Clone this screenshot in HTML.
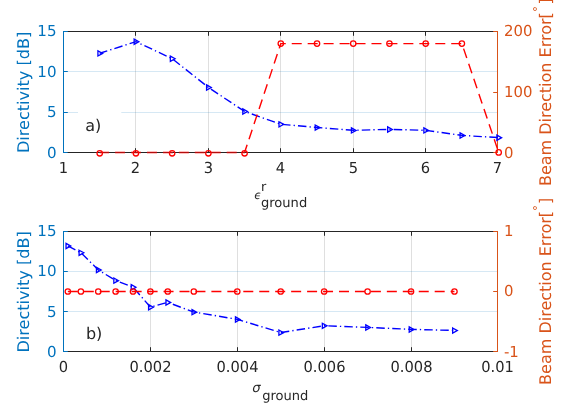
<!DOCTYPE html>
<html lang="en"><head><meta charset="utf-8"><title>Directivity and beam direction error</title>
<style>html,body{margin:0;padding:0;background:#fff;}body{width:561px;height:420px;overflow:hidden;}svg{display:block;}</style>
</head><body>
<svg width="561" height="420" viewBox="0 0 561 420" text-rendering="geometricPrecision" font-family='"DejaVu Sans", "Liberation Sans", sans-serif'>
<rect width="561" height="420" fill="#fff"/>
<line x1="135.50" y1="31.5" x2="135.50" y2="152.5" stroke="#262626" stroke-opacity="0.15" stroke-width="1"/>
<line x1="208.50" y1="31.5" x2="208.50" y2="152.5" stroke="#262626" stroke-opacity="0.15" stroke-width="1"/>
<line x1="280.50" y1="31.5" x2="280.50" y2="152.5" stroke="#262626" stroke-opacity="0.15" stroke-width="1"/>
<line x1="353.50" y1="31.5" x2="353.50" y2="152.5" stroke="#262626" stroke-opacity="0.15" stroke-width="1"/>
<line x1="425.50" y1="31.5" x2="425.50" y2="152.5" stroke="#262626" stroke-opacity="0.15" stroke-width="1"/>
<line x1="63.5" y1="112.50" x2="497.5" y2="112.50" stroke="#0072BD" stroke-opacity="0.16" stroke-width="1"/>
<line x1="63.5" y1="71.50" x2="497.5" y2="71.50" stroke="#0072BD" stroke-opacity="0.16" stroke-width="1"/>
<rect x="78" y="108" width="43.3" height="30" fill="#fff"/>
<path d="M63.5 31.5 H497.5 M63.5 152.5 H497.5" stroke="#262626" stroke-width="1" fill="none"/>
<path d="M63.50 152.5 v-4.3 M63.50 31.5 v4.3" stroke="#262626" stroke-width="1" fill="none"/>
<path d="M135.50 152.5 v-4.3 M135.50 31.5 v4.3" stroke="#262626" stroke-width="1" fill="none"/>
<path d="M208.50 152.5 v-4.3 M208.50 31.5 v4.3" stroke="#262626" stroke-width="1" fill="none"/>
<path d="M280.50 152.5 v-4.3 M280.50 31.5 v4.3" stroke="#262626" stroke-width="1" fill="none"/>
<path d="M353.50 152.5 v-4.3 M353.50 31.5 v4.3" stroke="#262626" stroke-width="1" fill="none"/>
<path d="M425.50 152.5 v-4.3 M425.50 31.5 v4.3" stroke="#262626" stroke-width="1" fill="none"/>
<path d="M497.50 152.5 v-4.3 M497.50 31.5 v4.3" stroke="#262626" stroke-width="1" fill="none"/>
<path d="M63.5 31.0 V153.0 M63.5 152.50 h4.3 M63.5 112.50 h4.3 M63.5 71.50 h4.3 M63.5 31.50 h4.3" stroke="#0072BD" stroke-width="1" fill="none"/>
<path d="M497.5 31.0 V153.0 M497.5 152.50 h-4.3 M497.5 92.50 h-4.3 M497.5 31.50 h-4.3" stroke="#D95319" stroke-width="1" fill="none"/>
<text transform="translate(63.50,173.00) scale(1,1.04)" text-anchor="middle" font-size="14.67" fill="#262626">1</text>
<text transform="translate(135.50,173.00) scale(1,1.04)" text-anchor="middle" font-size="14.67" fill="#262626">2</text>
<text transform="translate(208.50,173.00) scale(1,1.04)" text-anchor="middle" font-size="14.67" fill="#262626">3</text>
<text transform="translate(280.50,173.00) scale(1,1.04)" text-anchor="middle" font-size="14.67" fill="#262626">4</text>
<text transform="translate(353.50,173.00) scale(1,1.04)" text-anchor="middle" font-size="14.67" fill="#262626">5</text>
<text transform="translate(425.50,173.00) scale(1,1.04)" text-anchor="middle" font-size="14.67" fill="#262626">6</text>
<text transform="translate(497.50,173.00) scale(1,1.04)" text-anchor="middle" font-size="14.67" fill="#262626">7</text>
<text transform="translate(56.50,158.00) scale(1.03,1.04)" text-anchor="end" font-size="14.67" fill="#0072BD">0</text>
<text transform="translate(56.50,117.00) scale(1.03,1.04)" text-anchor="end" font-size="14.67" fill="#0072BD">5</text>
<text transform="translate(56.50,77.00) scale(1.03,1.04)" text-anchor="end" font-size="14.67" fill="#0072BD">10</text>
<text transform="translate(56.50,36.00) scale(1.03,1.04)" text-anchor="end" font-size="14.67" fill="#0072BD">15</text>
<text transform="translate(504.00,158.00) scale(1.015,1.04)" text-anchor="start" font-size="14.67" fill="#D95319">0</text>
<text transform="translate(504.00,97.00) scale(1.015,1.04)" text-anchor="start" font-size="14.67" fill="#D95319">100</text>
<text transform="translate(504.00,36.00) scale(1.015,1.04)" text-anchor="start" font-size="14.67" fill="#D95319">200</text>
<polyline points="99.72,53.28 135.93,41.66 172.15,58.60 208.37,87.40 244.58,111.44 280.80,124.27 317.02,127.49 353.23,130.32 389.45,129.35 425.67,130.32 461.88,135.40 498.68,137.58" fill="none" stroke="#0000FF" stroke-width="1.4" stroke-dasharray="8.5 3.1 1.3 3.1" stroke-dashoffset="0.6"/>
<path d="M97.92 50.78 L102.62 53.38 L97.92 55.98 Z" fill="none" stroke="#0000FF" stroke-width="1.3" stroke-linejoin="miter"/>
<path d="M134.13 39.16 L138.83 41.76 L134.13 44.36 Z" fill="none" stroke="#0000FF" stroke-width="1.3" stroke-linejoin="miter"/>
<path d="M170.35 56.10 L175.05 58.70 L170.35 61.30 Z" fill="none" stroke="#0000FF" stroke-width="1.3" stroke-linejoin="miter"/>
<path d="M206.57 84.90 L211.27 87.50 L206.57 90.10 Z" fill="none" stroke="#0000FF" stroke-width="1.3" stroke-linejoin="miter"/>
<path d="M242.78 108.94 L247.48 111.54 L242.78 114.14 Z" fill="none" stroke="#0000FF" stroke-width="1.3" stroke-linejoin="miter"/>
<path d="M279.00 121.77 L283.70 124.37 L279.00 126.97 Z" fill="none" stroke="#0000FF" stroke-width="1.3" stroke-linejoin="miter"/>
<path d="M315.22 124.99 L319.92 127.59 L315.22 130.19 Z" fill="none" stroke="#0000FF" stroke-width="1.3" stroke-linejoin="miter"/>
<path d="M351.43 127.82 L356.13 130.42 L351.43 133.02 Z" fill="none" stroke="#0000FF" stroke-width="1.3" stroke-linejoin="miter"/>
<path d="M387.65 126.85 L392.35 129.45 L387.65 132.05 Z" fill="none" stroke="#0000FF" stroke-width="1.3" stroke-linejoin="miter"/>
<path d="M423.87 127.82 L428.57 130.42 L423.87 133.02 Z" fill="none" stroke="#0000FF" stroke-width="1.3" stroke-linejoin="miter"/>
<path d="M460.08 132.90 L464.78 135.50 L460.08 138.10 Z" fill="none" stroke="#0000FF" stroke-width="1.3" stroke-linejoin="miter"/>
<path d="M496.88 135.08 L501.58 137.68 L496.88 140.28 Z" fill="none" stroke="#0000FF" stroke-width="1.3" stroke-linejoin="miter"/>
<polyline points="99.72,152.50 135.93,152.50 172.15,152.50 208.37,152.50 244.58,152.50 280.80,43.60 317.02,43.60 353.23,43.60 389.45,43.60 425.67,43.60 461.88,43.60 498.68,152.50" fill="none" stroke="#FF0000" stroke-width="1.4" stroke-dasharray="10 5.95" stroke-dashoffset="0.6"/>
<path d="M67.5 152.5 H493.5" stroke="#262626" stroke-opacity="0.35" stroke-width="1" fill="none"/>
<circle cx="99.72" cy="153.30" r="2.7" fill="none" stroke="#FF0000" stroke-width="1.3"/>
<circle cx="135.93" cy="153.30" r="2.7" fill="none" stroke="#FF0000" stroke-width="1.3"/>
<circle cx="172.15" cy="153.30" r="2.7" fill="none" stroke="#FF0000" stroke-width="1.3"/>
<circle cx="208.37" cy="153.30" r="2.7" fill="none" stroke="#FF0000" stroke-width="1.3"/>
<circle cx="244.58" cy="153.30" r="2.7" fill="none" stroke="#FF0000" stroke-width="1.3"/>
<circle cx="280.80" cy="43.60" r="2.7" fill="none" stroke="#FF0000" stroke-width="1.3"/>
<circle cx="317.02" cy="43.60" r="2.7" fill="none" stroke="#FF0000" stroke-width="1.3"/>
<circle cx="353.23" cy="43.60" r="2.7" fill="none" stroke="#FF0000" stroke-width="1.3"/>
<circle cx="389.45" cy="43.60" r="2.7" fill="none" stroke="#FF0000" stroke-width="1.3"/>
<circle cx="425.67" cy="43.60" r="2.7" fill="none" stroke="#FF0000" stroke-width="1.3"/>
<circle cx="461.88" cy="43.60" r="2.7" fill="none" stroke="#FF0000" stroke-width="1.3"/>
<circle cx="498.68" cy="152.40" r="2.7" fill="none" stroke="#FF0000" stroke-width="1.3"/>
<text x="85.2" y="130.8" font-size="16" fill="#262626">a)</text>
<text transform="translate(29.3,92.4) rotate(-90)" text-anchor="middle" font-size="16.1" fill="#0072BD">Directivity [dB]</text>
<text transform="translate(550.8,186.10) rotate(-90)" text-anchor="start" font-size="16" fill="#D95319">Beam Direction Error[</text>
<text transform="translate(542.15,12.10) rotate(-90)" text-anchor="start" font-size="12" fill="#D95319">°</text>
<text transform="translate(550.8,4.60) rotate(-90)" text-anchor="start" font-size="16" fill="#D95319">]</text>
<text x="254.3" y="199.3" font-size="11.5" font-style="italic" fill="#262626">ϵ</text>
<text x="261" y="190.6" font-size="12.8" fill="#262626">r</text>
<text x="261" y="206.8" font-size="13.05" fill="#262626">ground</text>
<line x1="150.50" y1="231.5" x2="150.50" y2="351.5" stroke="#262626" stroke-opacity="0.15" stroke-width="1"/>
<line x1="237.50" y1="231.5" x2="237.50" y2="351.5" stroke="#262626" stroke-opacity="0.15" stroke-width="1"/>
<line x1="324.50" y1="231.5" x2="324.50" y2="351.5" stroke="#262626" stroke-opacity="0.15" stroke-width="1"/>
<line x1="411.50" y1="231.5" x2="411.50" y2="351.5" stroke="#262626" stroke-opacity="0.15" stroke-width="1"/>
<line x1="63.5" y1="311.50" x2="497.5" y2="311.50" stroke="#0072BD" stroke-opacity="0.16" stroke-width="1"/>
<line x1="63.5" y1="271.50" x2="497.5" y2="271.50" stroke="#0072BD" stroke-opacity="0.16" stroke-width="1"/>
<path d="M63.5 231.5 H497.5 M63.5 351.5 H497.5" stroke="#262626" stroke-width="1" fill="none"/>
<path d="M63.50 351.5 v-4.3 M63.50 231.5 v4.3" stroke="#262626" stroke-width="1" fill="none"/>
<path d="M150.50 351.5 v-4.3 M150.50 231.5 v4.3" stroke="#262626" stroke-width="1" fill="none"/>
<path d="M237.50 351.5 v-4.3 M237.50 231.5 v4.3" stroke="#262626" stroke-width="1" fill="none"/>
<path d="M324.50 351.5 v-4.3 M324.50 231.5 v4.3" stroke="#262626" stroke-width="1" fill="none"/>
<path d="M411.50 351.5 v-4.3 M411.50 231.5 v4.3" stroke="#262626" stroke-width="1" fill="none"/>
<path d="M497.50 351.5 v-4.3 M497.50 231.5 v4.3" stroke="#262626" stroke-width="1" fill="none"/>
<path d="M63.5 231.0 V352.0 M63.5 351.50 h4.3 M63.5 311.50 h4.3 M63.5 271.50 h4.3 M63.5 231.50 h4.3" stroke="#0072BD" stroke-width="1" fill="none"/>
<path d="M497.5 231.0 V352.0 M497.5 351.50 h-4.3 M497.5 291.50 h-4.3 M497.5 231.50 h-4.3" stroke="#D95319" stroke-width="1" fill="none"/>
<text transform="translate(63.50,372.00) scale(1,1.04)" text-anchor="middle" font-size="14.67" fill="#262626">0</text>
<text transform="translate(150.50,372.00) scale(1,1.04)" text-anchor="middle" font-size="14.67" fill="#262626">0.002</text>
<text transform="translate(237.50,372.00) scale(1,1.04)" text-anchor="middle" font-size="14.67" fill="#262626">0.004</text>
<text transform="translate(324.50,372.00) scale(1,1.04)" text-anchor="middle" font-size="14.67" fill="#262626">0.006</text>
<text transform="translate(411.50,372.00) scale(1,1.04)" text-anchor="middle" font-size="14.67" fill="#262626">0.008</text>
<text transform="translate(497.50,372.00) scale(1,1.04)" text-anchor="middle" font-size="14.67" fill="#262626">0.01</text>
<text transform="translate(56.50,357.00) scale(1.03,1.04)" text-anchor="end" font-size="14.67" fill="#0072BD">0</text>
<text transform="translate(56.50,317.00) scale(1.03,1.04)" text-anchor="end" font-size="14.67" fill="#0072BD">5</text>
<text transform="translate(56.50,276.00) scale(1.03,1.04)" text-anchor="end" font-size="14.67" fill="#0072BD">10</text>
<text transform="translate(56.50,236.00) scale(1.03,1.04)" text-anchor="end" font-size="14.67" fill="#0072BD">15</text>
<text transform="translate(504.00,357.00) scale(1.015,1.04)" text-anchor="start" font-size="14.67" fill="#D95319">-1</text>
<text transform="translate(504.00,296.00) scale(1.015,1.04)" text-anchor="start" font-size="14.67" fill="#D95319">0</text>
<text transform="translate(504.00,236.00) scale(1.015,1.04)" text-anchor="start" font-size="14.67" fill="#D95319">1</text>
<polyline points="67.84,245.90 80.88,252.70 98.25,269.90 115.63,280.54 133.00,287.10 150.38,307.10 167.76,302.38 193.82,312.06 237.26,319.34 280.70,332.54 324.14,325.74 367.58,327.42 411.02,329.34 454.46,330.46" fill="none" stroke="#0000FF" stroke-width="1.4" stroke-dasharray="8.5 3.1 1.3 3.1"/>
<path d="M66.04 243.40 L70.74 246.00 L66.04 248.60 Z" fill="none" stroke="#0000FF" stroke-width="1.3" stroke-linejoin="miter"/>
<path d="M79.08 250.20 L83.78 252.80 L79.08 255.40 Z" fill="none" stroke="#0000FF" stroke-width="1.3" stroke-linejoin="miter"/>
<path d="M96.45 267.40 L101.15 270.00 L96.45 272.60 Z" fill="none" stroke="#0000FF" stroke-width="1.3" stroke-linejoin="miter"/>
<path d="M113.83 278.04 L118.53 280.64 L113.83 283.24 Z" fill="none" stroke="#0000FF" stroke-width="1.3" stroke-linejoin="miter"/>
<path d="M131.20 284.60 L135.90 287.20 L131.20 289.80 Z" fill="none" stroke="#0000FF" stroke-width="1.3" stroke-linejoin="miter"/>
<path d="M148.58 304.60 L153.28 307.20 L148.58 309.80 Z" fill="none" stroke="#0000FF" stroke-width="1.3" stroke-linejoin="miter"/>
<path d="M165.96 299.88 L170.66 302.48 L165.96 305.08 Z" fill="none" stroke="#0000FF" stroke-width="1.3" stroke-linejoin="miter"/>
<path d="M192.02 309.56 L196.72 312.16 L192.02 314.76 Z" fill="none" stroke="#0000FF" stroke-width="1.3" stroke-linejoin="miter"/>
<path d="M235.46 316.84 L240.16 319.44 L235.46 322.04 Z" fill="none" stroke="#0000FF" stroke-width="1.3" stroke-linejoin="miter"/>
<path d="M278.90 330.04 L283.60 332.64 L278.90 335.24 Z" fill="none" stroke="#0000FF" stroke-width="1.3" stroke-linejoin="miter"/>
<path d="M322.34 323.24 L327.04 325.84 L322.34 328.44 Z" fill="none" stroke="#0000FF" stroke-width="1.3" stroke-linejoin="miter"/>
<path d="M365.78 324.92 L370.48 327.52 L365.78 330.12 Z" fill="none" stroke="#0000FF" stroke-width="1.3" stroke-linejoin="miter"/>
<path d="M409.22 326.84 L413.92 329.44 L409.22 332.04 Z" fill="none" stroke="#0000FF" stroke-width="1.3" stroke-linejoin="miter"/>
<path d="M452.66 327.96 L457.36 330.56 L452.66 333.16 Z" fill="none" stroke="#0000FF" stroke-width="1.3" stroke-linejoin="miter"/>
<polyline points="67.84,291.50 80.88,291.50 98.25,291.50 115.63,291.50 133.00,291.50 150.38,291.50 167.76,291.50 193.82,291.50 237.26,291.50 280.70,291.50 324.14,291.50 367.58,291.50 411.02,291.50 454.46,291.50" fill="none" stroke="#FF0000" stroke-width="1.4" stroke-dasharray="10 5.95"/>
<circle cx="67.84" cy="291.50" r="2.7" fill="none" stroke="#FF0000" stroke-width="1.3"/>
<circle cx="80.88" cy="291.50" r="2.7" fill="none" stroke="#FF0000" stroke-width="1.3"/>
<circle cx="98.25" cy="291.50" r="2.7" fill="none" stroke="#FF0000" stroke-width="1.3"/>
<circle cx="115.63" cy="291.50" r="2.7" fill="none" stroke="#FF0000" stroke-width="1.3"/>
<circle cx="133.00" cy="291.50" r="2.7" fill="none" stroke="#FF0000" stroke-width="1.3"/>
<circle cx="150.38" cy="291.50" r="2.7" fill="none" stroke="#FF0000" stroke-width="1.3"/>
<circle cx="167.76" cy="291.50" r="2.7" fill="none" stroke="#FF0000" stroke-width="1.3"/>
<circle cx="193.82" cy="291.50" r="2.7" fill="none" stroke="#FF0000" stroke-width="1.3"/>
<circle cx="237.26" cy="291.50" r="2.7" fill="none" stroke="#FF0000" stroke-width="1.3"/>
<circle cx="280.70" cy="291.50" r="2.7" fill="none" stroke="#FF0000" stroke-width="1.3"/>
<circle cx="324.14" cy="291.50" r="2.7" fill="none" stroke="#FF0000" stroke-width="1.3"/>
<circle cx="367.58" cy="291.50" r="2.7" fill="none" stroke="#FF0000" stroke-width="1.3"/>
<circle cx="411.02" cy="291.50" r="2.7" fill="none" stroke="#FF0000" stroke-width="1.3"/>
<circle cx="454.46" cy="291.50" r="2.7" fill="none" stroke="#FF0000" stroke-width="1.3"/>
<text x="85.9" y="338.7" font-size="16" fill="#262626">b)</text>
<text transform="translate(29.3,291.9) rotate(-90)" text-anchor="middle" font-size="16.1" fill="#0072BD">Directivity [dB]</text>
<text transform="translate(550.8,384.90) rotate(-90)" text-anchor="start" font-size="16" fill="#D95319">Beam Direction Error[</text>
<text transform="translate(542.15,210.90) rotate(-90)" text-anchor="start" font-size="12" fill="#D95319">°</text>
<text transform="translate(550.8,203.90) rotate(-90)" text-anchor="start" font-size="16" fill="#D95319">]</text>
<text x="252.2" y="392" font-size="13.2" font-style="italic" fill="#262626">σ</text>
<text x="262.2" y="400" font-size="13.05" fill="#262626">ground</text>
</svg>
</body></html>
